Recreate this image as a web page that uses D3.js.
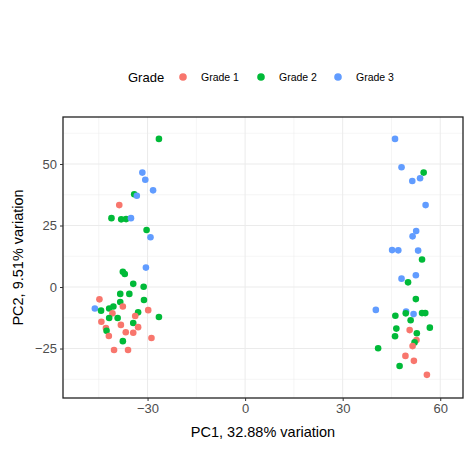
<!DOCTYPE html>
<html><head><meta charset="utf-8">
<script src="https://cdn.jsdelivr.net/npm/d3@7"></script>
<style>body{margin:0;background:#fff;font-family:"Liberation Sans",Arial,sans-serif}</style>
</head><body><div id="chart"></div>
<script>
const grades = ["Grade 1", "Grade 2", "Grade 3"];
const colors = ["#F8766D", "#00BA38", "#619CFF"];
const xTicks = [-30, 0, 30, 60];
const yTicks = [-25, 0, 25, 50];
// [PC1, PC2, grade index]
const points = [
  [-26.5,60.2,1],[-31.6,46.5,2],[-30.7,43.6,2],[-28.3,39.3,2],[-34.1,37.7,1],[-33.3,37.1,2],
  [-38.7,33.3,0],[-41.1,28.0,1],[-38.1,27.5,1],[-36.6,27.6,1],[-35.1,28.0,2],[-30.3,23.2,1],
  [-29.1,20.2,2],[-30.5,7.9,2],[-37.6,6.2,1],[-37.0,5.3,1],[-34.4,1.3,1],[-31.2,0.1,1],
  [-38.4,-2.8,1],[-35.6,-2.8,1],[-44.8,-5.0,0],[-31.1,-5.3,1],[-38.4,-6.1,1],[-37.6,-7.9,0],
  [-40.5,-7.9,1],[-41.8,-8.7,1],[-46.2,-8.7,2],[-44.3,-9.6,1],[-32.9,-10.3,1],[-29.8,-9.4,0],
  [-40.8,-10.7,0],[-26.5,-12.2,1],[-33.8,-11.8,0],[-41.8,-12.6,1],[-39.2,-12.6,1],[-44.2,-14.1,0],
  [-34.4,-14.6,1],[-38.2,-15.4,0],[-32.9,-16.3,0],[-42.8,-16.7,0],[-42.6,-17.8,1],[-36.7,-18.4,0],
  [-34.4,-18.6,0],[-41.9,-19.9,0],[-28.8,-20.7,0],[-37.6,-22.0,1],[-40.3,-25.6,0],[-36.0,-25.6,0],
  [46.1,60.2,2],[48.1,48.7,2],[54.9,46.5,1],[53.8,44.2,2],[51.4,43.1,2],[55.5,33.3,2],
  [52.6,22.8,2],[51.5,20.6,2],[45.2,15.0,2],[47.1,14.9,2],[53.2,14.8,2],[54.4,11.2,1],
  [52.5,4.8,2],[48.1,3.4,2],[50.1,1.9,1],[52.5,-4.9,1],[40.2,-9.3,2],[49.5,-10.0,2],
  [51.8,-11.0,2],[49.4,-10.7,1],[54.4,-10.6,1],[55.4,-10.6,1],[46.2,-11.7,1],[50.9,-13.5,1],
  [56.8,-16.5,1],[50.6,-17.5,0],[46.5,-16.9,1],[52.8,-18.8,1],[46.1,-20.0,1],[52.7,-21.5,0],
  [52.1,-22.5,1],[51.5,-24.0,0],[40.9,-24.9,1],[49.3,-28.0,0],[51.9,-30.0,0],[47.5,-32.1,1],
  [55.9,-35.7,0]
];

const W = 474, H = 474;
const L = 63, R = 463, T = 117, B = 398;
const svg = d3.select("#chart").append("svg").attr("width", W).attr("height", H);

const x = d3.scaleLinear().domain([-56, 67]).range([L, R]);
const y = d3.scaleLinear().domain([-45.1, 69.1]).range([B, T]);

// grid
const g = svg.append("g");
const minorX = [-45, -15, 15, 45], minorY = [-37.5, -12.5, 12.5, 37.5, 62.5];
g.selectAll(".mx").data(minorX).join("line").attr("x1", d => x(d)).attr("x2", d => x(d))
  .attr("y1", T).attr("y2", B).attr("stroke", "#ebebeb").attr("stroke-width", 0.5);
g.selectAll(".my").data(minorY).join("line").attr("y1", d => y(d)).attr("y2", d => y(d))
  .attr("x1", L).attr("x2", R).attr("stroke", "#ebebeb").attr("stroke-width", 0.5);
g.selectAll(".gx").data(xTicks).join("line").attr("x1", d => x(d)).attr("x2", d => x(d))
  .attr("y1", T).attr("y2", B).attr("stroke", "#ebebeb").attr("stroke-width", 1);
g.selectAll(".gy").data(yTicks).join("line").attr("y1", d => y(d)).attr("y2", d => y(d))
  .attr("x1", L).attr("x2", R).attr("stroke", "#ebebeb").attr("stroke-width", 1);

svg.append("g").selectAll("circle").data(points).join("circle")
  .attr("cx", d => x(d[0])).attr("cy", d => y(d[1])).attr("r", 3.3)
  .attr("fill", d => colors[d[2]]);

svg.append("rect").attr("x", L).attr("y", T).attr("width", R - L).attr("height", B - T)
  .attr("fill", "none").attr("stroke", "#222").attr("stroke-width", 1.3);

// axes
const ax = svg.append("g").attr("transform", `translate(0,${B})`)
  .call(d3.axisBottom(x).tickValues(xTicks).tickSize(3).tickPadding(3));
const ay = svg.append("g").attr("transform", `translate(${L},0)`)
  .call(d3.axisLeft(y).tickValues(yTicks).tickSize(3).tickPadding(3));
[ax, ay].forEach(a => {
  a.select(".domain").remove();
  a.selectAll("line").attr("stroke", "#333");
  a.selectAll("text").attr("fill", "#4d4d4d").style("font-size", "13px").style("font-family", "Liberation Sans, Arial");
});

svg.append("text").attr("x", (L + R) / 2).attr("y", 437).attr("text-anchor", "middle")
  .style("font-size", "14.5px").text("PC1, 32.88% variation");
svg.append("text").attr("transform", `translate(23,${(T + B) / 2}) rotate(-90)`)
  .attr("text-anchor", "middle").style("font-size", "14.5px").text("PC2, 9.51% variation");

// legend
const lg = svg.append("g").attr("transform", "translate(0,77)");
lg.append("text").attr("x", 128).attr("y", 5).style("font-size", "13px").text("Grade");
const lx = [183, 261, 338];
grades.forEach((d, i) => {
  lg.append("circle").attr("cx", lx[i]).attr("cy", 0).attr("r", 3.8).attr("fill", colors[i]);
  lg.append("text").attr("x", lx[i] + 18).attr("y", 4).style("font-size", "10.5px").text(d);
});
</script></body></html>
